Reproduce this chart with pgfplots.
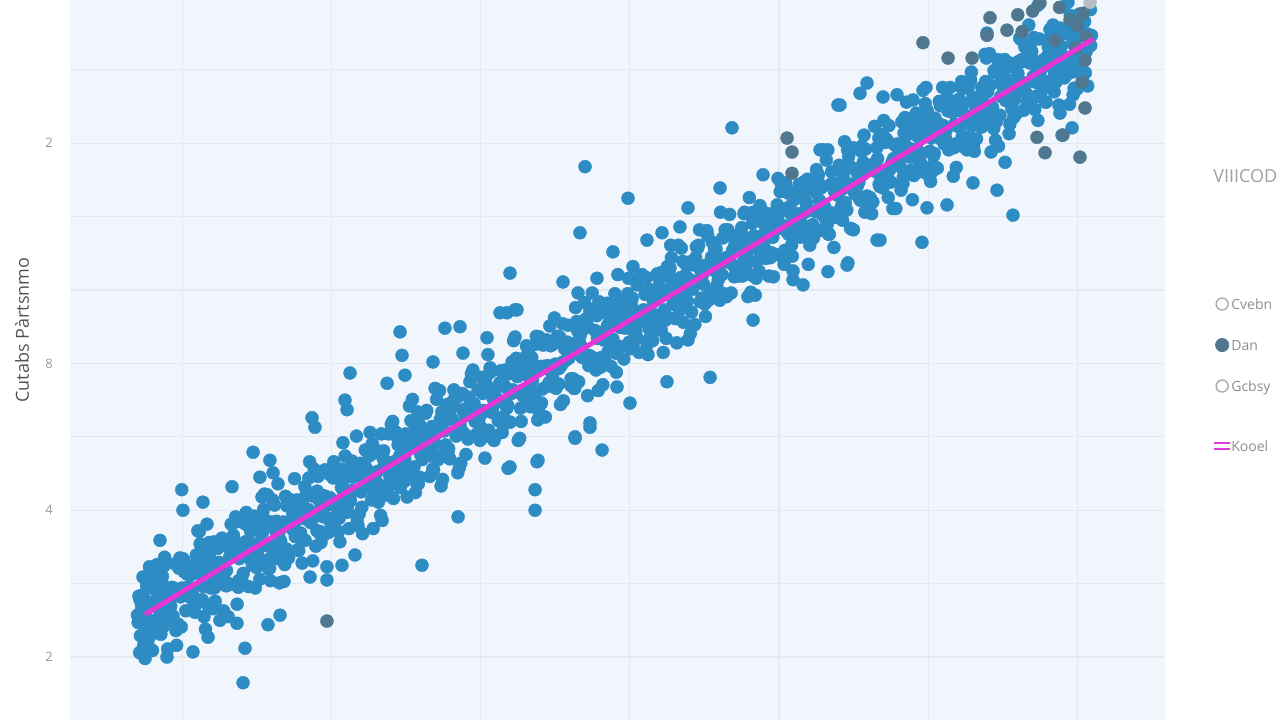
\documentclass[border=0pt]{standalone}
\usepackage{pgfplots}
\pgfplotsset{compat=1.18}
\usepackage{fontspec}
\setmainfont{Open Sans}
\definecolor{bgc}{HTML}{F0F6FC}
\definecolor{gridc}{HTML}{E2E9F1}
\definecolor{ptc}{HTML}{2D8CC4}
\definecolor{darkc}{HTML}{4F7890}
\definecolor{lightc}{HTML}{B4BEC4}
\definecolor{mag}{HTML}{E636D6}
\definecolor{tickc}{HTML}{999999}
\definecolor{labc}{HTML}{555555}
\definecolor{legc}{HTML}{8E8E8E}
\definecolor{legt}{HTML}{A0A0A0}
\definecolor{circc}{HTML}{AAAAAA}
\begin{document}
\begin{tikzpicture}
\useasboundingbox (0,0) rectangle (640pt,360pt);
\begin{axis}[
  at={(35pt,0pt)}, anchor=south west,
  scale only axis, width=547.5pt, height=360pt,
  xmin=0.248, xmax=7.587, ymin=1.142, ymax=10.951,
  clip marker paths=true,
  axis background/.style={fill=bgc},
  axis line style={draw=none},
  xtick={1,...,7}, xticklabels={},
  ytick={2,...,10}, yticklabels={2,,4,,8,,,2,},
  grid=major, major grid style={gridc, line width=0.6pt},
  tick style={draw=none},
  /pgf/number format/assume math mode=true,
  yticklabel style={font=\fontsize{6.5}{7}\selectfont, text=tickc, xshift=-5pt},
  ylabel={Cutabs Pàrtsnmo},
  ylabel style={at={(axis description cs:-0.0438,0.5417)}, anchor=center, font=\fontsize{9}{10}\selectfont, text=labc},
  legend style={at={(axis description cs:1.0438,0.784)}, anchor=north west, draw=none, fill=none, inner sep=0pt, outer sep=0pt, row sep=0pt, column sep=0pt, nodes={inner sep=0pt, text height=12.75pt, text depth=7.75pt}, font=\fontsize{7}{8}\selectfont, text=legc},
  legend cell align=left,
]
\addlegendimage{empty legend}
\addlegendentry[text height=13.5pt, text depth=7pt]{\hspace*{-9pt}{\fontsize{9}{9}\selectfont\color{legt}VIIICOD}}
\addlegendimage{empty legend}
\addlegendentry[text height=43.5pt, text depth=0pt]{\mbox{}}
\addlegendimage{legend image code/.code={\draw[circc, line width=0.7pt, fill=white] (4pt,0pt) circle (3pt);}}
\addlegendentry{Cvebn}
\addlegendimage{legend image code/.code={\fill[darkc] (4pt,0pt) circle (3.3pt);}}
\addlegendentry{Dan}
\addlegendimage{legend image code/.code={\draw[circc, line width=0.7pt, fill=white] (4pt,0pt) circle (3pt);}}
\addlegendentry{Gcbsy}
\addlegendimage{empty legend}
\addlegendentry[text height=9.5pt, text depth=0pt]{\mbox{}}
\addlegendimage{legend image code/.code={\draw[mag, line width=1.2pt] (0pt,1.4pt) -- (8pt,1.4pt); \draw[mag, line width=1.2pt] (0pt,-1.4pt) -- (8pt,-1.4pt);}}
\addlegendentry{Kooel}

\addplot[only marks, color=ptc, mark=*, mark size=3.25pt, mark options={fill=ptc, draw=ptc, line width=0.2pt}, forget plot] table[row sep=\\] {
x y\\
0.700 2.57\\ 0.720 2.29\\ 0.710 2.83\\ 0.730 2.66\\
0.741 2.15\\ 0.761 2.97\\ 0.751 1.98\\ 0.771 2.39\\
0.781 3.23\\ 0.801 2.09\\ 0.791 2.71\\ 0.811 2.96\\
0.822 2.49\\ 0.842 2.84\\ 0.832 3.26\\ 0.852 2.63\\
0.862 3.05\\ 0.882 3.36\\ 0.872 2.41\\ 0.892 2.94\\
0.903 2.11\\ 0.923 2.69\\ 0.913 2.76\\ 0.933 2.49\\
0.943 2.94\\ 0.963 2.16\\ 0.953 3.27\\ 0.973 2.88\\
0.984 3.35\\ 1.004 3.34\\ 0.994 2.41\\ 1.014 3.16\\
1.024 2.63\\ 1.044 2.96\\ 1.034 3.13\\ 1.054 2.81\\
1.065 2.92\\ 1.085 2.61\\ 1.075 2.83\\ 1.095 3.39\\
1.105 3.72\\ 1.125 3.31\\ 1.115 3.71\\ 1.135 2.78\\
1.146 2.55\\ 1.166 3.81\\ 1.156 2.38\\ 1.176 3.21\\
1.186 3.34\\ 1.206 2.66\\ 1.196 3.49\\ 1.216 2.94\\
1.227 3.05\\ 1.247 3.29\\ 1.237 3.48\\ 1.257 3.51\\
1.267 3.62\\ 1.287 3.04\\ 1.277 2.63\\ 1.297 3.18\\
1.308 2.55\\ 1.328 3.81\\ 1.318 3.36\\ 1.338 3.49\\
1.348 3.60\\ 1.368 2.72\\ 1.358 3.91\\ 1.378 3.04\\
1.389 3.01\\ 1.409 3.14\\ 1.399 3.06\\ 1.419 3.43\\
1.429 3.97\\ 1.449 3.82\\ 1.439 3.41\\ 1.459 3.71\\
1.470 3.25\\ 1.490 2.94\\ 1.480 3.92\\ 1.500 3.36\\
1.510 3.52\\ 1.530 3.69\\ 1.520 3.06\\ 1.540 3.94\\
1.551 4.22\\ 1.571 4.21\\ 1.561 3.78\\ 1.581 3.33\\
1.591 3.04\\ 1.611 3.54\\ 1.601 3.48\\ 1.621 3.76\\
1.632 3.85\\ 1.652 3.01\\ 1.642 4.36\\ 1.662 3.49\\
1.672 3.77\\ 1.692 4.19\\ 1.682 3.03\\ 1.702 4.06\\
1.713 3.35\\ 1.733 3.81\\ 1.723 4.14\\ 1.743 3.73\\
1.753 4.43\\ 1.773 3.46\\ 1.763 4.13\\ 1.783 4.04\\
1.794 3.69\\ 1.814 4.16\\ 1.804 3.28\\ 1.824 3.59\\
1.834 4.25\\ 1.854 4.66\\ 1.844 4.01\\ 1.864 3.98\\
1.875 3.31\\ 1.895 3.51\\ 1.885 4.56\\ 1.905 4.26\\
1.915 4.14\\ 1.935 4.14\\ 1.925 3.71\\ 1.945 3.91\\
1.956 4.55\\ 1.976 3.89\\ 1.966 4.06\\ 1.986 4.49\\
1.996 3.83\\ 2.016 4.66\\ 2.006 4.57\\ 2.026 3.88\\
2.037 4.12\\ 2.057 3.57\\ 2.047 3.71\\ 2.067 4.31\\
2.077 4.92\\ 2.097 3.99\\ 2.087 4.43\\ 2.107 4.04\\
2.118 3.75\\ 2.138 4.67\\ 2.128 4.13\\ 2.148 4.61\\
2.158 4.54\\ 2.178 3.79\\ 2.168 5.01\\ 2.188 4.28\\
2.199 4.25\\ 2.219 4.54\\ 2.209 3.68\\ 2.229 4.59\\
2.239 4.82\\ 2.259 5.06\\ 2.249 4.79\\ 2.269 4.14\\
2.280 3.75\\ 2.300 4.39\\ 2.290 4.78\\ 2.310 4.53\\
2.320 4.80\\ 2.340 3.86\\ 2.330 3.93\\ 2.350 4.81\\
2.361 4.21\\ 2.381 5.04\\ 2.371 4.66\\ 2.391 4.46\\
2.401 5.17\\ 2.421 4.66\\ 2.411 5.21\\ 2.431 5.04\\
2.442 4.45\\ 2.462 4.31\\ 2.452 4.36\\ 2.472 4.43\\
2.482 4.72\\ 2.502 5.01\\ 2.492 4.71\\ 2.512 4.86\\
2.523 5.42\\ 2.543 5.51\\ 2.533 5.22\\ 2.553 4.59\\
2.563 4.24\\ 2.583 4.36\\ 2.573 4.36\\ 2.593 5.16\\
2.604 5.05\\ 2.624 4.99\\ 2.614 5.08\\ 2.634 4.83\\
2.644 4.97\\ 2.664 4.74\\ 2.654 4.78\\ 2.674 5.14\\
2.685 4.55\\ 2.705 5.51\\ 2.695 5.66\\ 2.715 4.69\\
2.725 5.63\\ 2.745 4.42\\ 2.735 4.33\\ 2.755 5.08\\
2.766 4.89\\ 2.786 4.84\\ 2.776 5.44\\ 2.796 5.36\\
2.806 5.45\\ 2.826 5.52\\ 2.816 5.43\\ 2.836 5.01\\
2.847 4.51\\ 2.867 4.64\\ 2.857 4.58\\ 2.877 5.59\\
2.887 5.34\\ 2.907 5.39\\ 2.897 5.31\\ 2.917 4.98\\
2.928 5.75\\ 2.948 5.91\\ 2.938 5.86\\ 2.958 5.41\\
2.968 5.03\\ 2.988 5.24\\ 2.978 5.01\\ 2.998 5.14\\
3.009 5.32\\ 3.029 4.71\\ 3.019 5.36\\ 3.039 5.71\\
3.049 6.12\\ 3.069 5.89\\ 3.059 5.87\\ 3.079 5.38\\
3.090 4.95\\ 3.110 5.51\\ 3.100 5.01\\ 3.120 5.69\\
3.130 5.74\\ 3.150 5.16\\ 3.140 5.73\\ 3.160 5.24\\
3.171 5.45\\ 3.191 5.86\\ 3.181 5.43\\ 3.201 5.63\\
3.211 6.02\\ 3.231 6.36\\ 3.221 6.31\\ 3.241 5.91\\
3.252 4.95\\ 3.272 5.21\\ 3.262 4.98\\ 3.282 5.56\\
3.292 6.00\\ 3.312 5.84\\ 3.302 6.09\\ 3.322 6.14\\
3.333 5.41\\ 3.353 5.59\\ 3.343 6.08\\ 3.363 5.53\\
3.373 6.37\\ 3.393 6.36\\ 3.383 5.23\\ 3.403 5.96\\
3.414 5.65\\ 3.434 5.27\\ 3.424 5.96\\ 3.444 5.69\\
3.454 5.92\\ 3.474 5.69\\ 3.464 6.51\\ 3.484 6.26\\
3.495 6.62\\ 3.515 6.37\\ 3.505 5.66\\ 3.525 5.93\\
3.535 5.44\\ 3.555 5.49\\ 3.545 6.01\\ 3.565 6.24\\
3.576 6.25\\ 3.596 6.24\\ 3.586 6.52\\ 3.606 5.79\\
3.616 6.17\\ 3.636 6.76\\ 3.626 5.66\\ 3.646 6.18\\
3.657 5.75\\ 3.677 6.09\\ 3.667 6.38\\ 3.687 6.46\\
3.697 6.83\\ 3.717 5.56\\ 3.707 6.08\\ 3.727 6.11\\
3.738 6.09\\ 3.758 6.74\\ 3.748 6.96\\ 3.768 6.69\\
3.778 6.65\\ 3.798 6.36\\ 3.788 5.63\\ 3.808 6.08\\
3.819 5.71\\ 3.839 6.01\\ 3.829 6.74\\ 3.849 6.51\\
3.859 6.54\\ 3.879 6.71\\ 3.869 6.73\\ 3.889 6.24\\
3.900 6.95\\ 3.920 7.21\\ 3.910 5.88\\ 3.930 6.81\\
3.940 6.23\\ 3.960 6.06\\ 3.950 6.61\\ 3.970 6.48\\
3.981 6.52\\ 4.001 6.69\\ 3.991 7.16\\ 4.011 6.79\\
4.021 7.32\\ 4.041 6.44\\ 4.031 6.31\\ 4.051 6.34\\
4.062 6.15\\ 4.082 7.21\\ 4.072 6.66\\ 4.092 6.73\\
4.102 6.94\\ 4.122 6.12\\ 4.112 7.17\\ 4.132 7.01\\
4.143 6.65\\ 4.163 6.54\\ 4.153 6.31\\ 4.173 6.66\\
4.183 7.22\\ 4.203 7.22\\ 4.193 7.03\\ 4.213 7.24\\
4.224 6.15\\ 4.244 6.34\\ 4.234 6.73\\ 4.254 6.63\\
4.264 7.20\\ 4.284 7.09\\ 4.274 7.61\\ 4.294 7.06\\
4.305 6.61\\ 4.325 7.61\\ 4.315 6.28\\ 4.335 6.79\\
4.345 7.57\\ 4.365 6.94\\ 4.355 7.39\\ 4.375 7.36\\
4.386 6.85\\ 4.406 6.41\\ 4.396 7.38\\ 4.416 7.03\\
4.426 7.12\\ 4.446 7.59\\ 4.436 6.53\\ 4.456 7.34\\
4.467 7.82\\ 4.487 7.21\\ 4.477 7.26\\ 4.497 6.89\\
4.507 6.64\\ 4.527 6.86\\ 4.517 7.81\\ 4.537 7.28\\
4.548 7.45\\ 4.568 7.56\\ 4.558 6.96\\ 4.578 7.56\\
4.588 7.37\\ 4.608 8.06\\ 4.598 7.31\\ 4.618 7.21\\
4.629 6.95\\ 4.649 6.91\\ 4.639 7.82\\ 4.659 7.79\\
4.669 8.03\\ 4.689 7.54\\ 4.679 6.96\\ 4.699 7.18\\
4.710 7.29\\ 4.730 7.29\\ 4.720 7.68\\ 4.740 7.61\\
4.750 7.85\\ 4.770 8.06\\ 4.760 7.38\\ 4.780 7.34\\
4.791 6.91\\ 4.811 6.97\\ 4.801 8.26\\ 4.821 7.91\\
4.831 7.74\\ 4.851 7.39\\ 4.841 6.93\\ 4.861 7.58\\
4.872 8.15\\ 4.892 8.07\\ 4.882 8.04\\ 4.902 7.89\\
4.912 7.43\\ 4.932 7.19\\ 4.922 8.03\\ 4.942 7.44\\
4.953 7.72\\ 4.973 7.94\\ 4.963 7.18\\ 4.983 7.83\\
4.993 8.52\\ 5.013 8.46\\ 5.003 7.91\\ 5.023 8.11\\
5.034 7.35\\ 5.054 7.79\\ 5.044 8.46\\ 5.064 7.76\\
5.074 8.14\\ 5.094 7.26\\ 5.084 7.61\\ 5.104 8.34\\
5.115 7.85\\ 5.135 8.44\\ 5.125 7.96\\ 5.145 7.73\\
5.155 8.42\\ 5.175 8.06\\ 5.165 8.47\\ 5.185 8.16\\
5.196 7.35\\ 5.216 7.71\\ 5.206 7.61\\ 5.226 7.89\\
5.236 8.40\\ 5.256 8.41\\ 5.246 8.33\\ 5.266 8.46\\
5.277 7.81\\ 5.297 8.91\\ 5.287 8.03\\ 5.307 8.13\\
5.317 8.77\\ 5.337 7.76\\ 5.327 8.91\\ 5.347 8.44\\
5.358 8.05\\ 5.378 8.39\\ 5.368 7.58\\ 5.388 7.99\\
5.398 8.32\\ 5.418 8.14\\ 5.408 8.69\\ 5.428 8.38\\
5.439 9.02\\ 5.459 8.91\\ 5.449 8.68\\ 5.469 8.66\\
5.479 7.84\\ 5.499 7.82\\ 5.489 7.83\\ 5.509 8.31\\
5.520 8.65\\ 5.540 8.24\\ 5.530 8.56\\ 5.550 8.89\\
5.560 8.57\\ 5.580 8.92\\ 5.570 9.11\\ 5.590 8.28\\
5.601 8.15\\ 5.621 8.04\\ 5.611 8.26\\ 5.631 8.71\\
5.641 9.23\\ 5.661 8.79\\ 5.651 8.61\\ 5.671 8.44\\
5.682 8.49\\ 5.702 9.31\\ 5.692 9.12\\ 5.712 9.01\\
5.722 9.05\\ 5.742 8.64\\ 5.732 8.26\\ 5.752 8.68\\
5.763 8.11\\ 5.783 8.11\\ 5.773 8.98\\ 5.793 8.99\\
5.803 8.94\\ 5.823 9.29\\ 5.813 8.68\\ 5.833 8.54\\
5.844 9.35\\ 5.864 8.91\\ 5.854 9.56\\ 5.874 8.93\\
5.884 8.63\\ 5.904 8.56\\ 5.894 8.23\\ 5.914 9.21\\
5.925 8.92\\ 5.945 9.26\\ 5.935 9.34\\ 5.955 8.86\\
5.965 9.72\\ 5.985 9.76\\ 5.975 9.33\\ 5.995 9.44\\
6.006 8.55\\ 6.026 8.61\\ 6.016 8.48\\ 6.036 8.83\\
6.046 9.34\\ 6.066 9.24\\ 6.056 9.21\\ 6.076 9.26\\
6.087 9.05\\ 6.107 8.99\\ 6.097 9.76\\ 6.117 8.99\\
6.127 9.62\\ 6.147 9.76\\ 6.137 8.91\\ 6.157 9.56\\
6.168 8.55\\ 6.188 8.67\\ 6.178 9.26\\ 6.198 9.23\\
6.208 9.60\\ 6.228 9.09\\ 6.218 9.77\\ 6.238 9.54\\
6.249 9.01\\ 6.269 9.77\\ 6.259 8.91\\ 6.279 9.09\\
6.289 9.97\\ 6.309 8.89\\ 6.299 9.63\\ 6.319 9.48\\
6.330 9.25\\ 6.350 9.64\\ 6.340 9.33\\ 6.360 9.76\\
6.370 9.52\\ 6.390 10.16\\ 6.380 10.21\\ 6.400 9.41\\
6.411 10.22\\ 6.431 9.49\\ 6.421 8.88\\ 6.441 9.99\\
6.451 9.04\\ 6.471 8.96\\ 6.461 9.99\\ 6.481 9.38\\
6.492 9.85\\ 6.512 10.14\\ 6.502 9.98\\ 6.522 9.81\\
6.532 9.77\\ 6.552 9.76\\ 6.542 9.13\\ 6.562 9.54\\
6.573 9.35\\ 6.593 9.41\\ 6.583 9.86\\ 6.603 10.11\\
6.613 10.43\\ 6.633 10.11\\ 6.623 10.41\\ 6.643 9.78\\
6.654 9.69\\ 6.674 10.61\\ 6.664 9.56\\ 6.684 10.09\\
6.694 10.25\\ 6.714 9.46\\ 6.704 9.91\\ 6.724 9.64\\
6.735 9.31\\ 6.755 10.09\\ 6.745 10.42\\ 6.765 10.03\\
6.775 10.14\\ 6.795 9.84\\ 6.785 9.56\\ 6.805 10.31\\
6.816 10.55\\ 6.836 10.61\\ 6.826 10.28\\ 6.846 9.96\\
6.856 9.83\\ 6.876 9.52\\ 6.866 9.98\\ 6.886 10.54\\
6.897 10.12\\ 6.917 9.94\\ 6.907 10.86\\ 6.927 9.93\\
6.937 10.92\\ 6.957 10.62\\ 6.947 9.53\\ 6.967 10.36\\
6.978 9.75\\ 6.998 9.74\\ 6.988 10.64\\ 7.008 10.09\\
7.018 10.54\\ 7.038 10.49\\ 7.028 10.63\\ 7.048 10.66\\
7.059 10.25\\ 7.079 11.01\\ 7.069 9.78\\ 7.089 10.33\\
0.705 2.47\\ 0.735 2.84\\ 0.746 2.79\\ 0.776 2.51\\ 0.786 2.29\\ 0.816 3.11\\
0.827 2.79\\ 0.857 2.31\\ 0.867 3.10\\ 0.897 2.82\\ 0.908 2.59\\ 0.938 2.56\\
0.948 2.84\\ 0.978 3.21\\ 0.989 2.82\\ 1.019 2.89\\ 1.029 3.14\\ 1.059 3.12\\
1.070 2.64\\ 1.100 3.29\\ 1.110 3.14\\ 1.140 2.96\\ 1.151 3.45\\ 1.181 3.56\\
1.191 2.94\\ 1.221 2.76\\ 1.232 3.19\\ 1.262 3.27\\ 1.272 3.17\\ 1.302 3.01\\
1.313 3.49\\ 1.343 3.66\\ 1.353 2.99\\ 1.383 3.34\\ 1.394 3.49\\ 1.424 3.57\\
1.434 3.80\\ 1.464 3.74\\ 1.475 3.29\\ 1.505 3.41\\ 1.515 3.54\\ 1.545 4.01\\
1.556 3.52\\ 1.586 3.21\\ 1.596 3.84\\ 1.626 3.72\\ 1.637 3.34\\ 1.667 3.46\\
1.677 3.84\\ 1.707 4.11\\ 1.718 4.15\\ 1.748 3.79\\ 1.758 3.64\\ 1.788 4.02\\
1.799 3.89\\ 1.829 4.19\\ 1.839 3.87\\ 1.869 3.86\\ 1.880 4.19\\ 1.910 4.46\\
1.920 3.69\\ 1.950 3.66\\ 1.961 4.19\\ 1.991 4.17\\ 2.001 4.50\\ 2.031 3.91\\
2.042 3.99\\ 2.072 4.56\\ 2.082 4.24\\ 2.112 4.24\\ 2.123 4.22\\ 2.153 4.47\\
2.163 4.54\\ 2.193 4.64\\ 2.204 4.04\\ 2.234 4.31\\ 2.244 4.54\\ 2.274 4.91\\
2.285 4.85\\ 2.315 4.11\\ 2.325 4.34\\ 2.355 4.62\\ 2.366 4.59\\ 2.396 4.36\\
2.406 4.57\\ 2.436 5.01\\ 2.447 4.89\\ 2.477 4.69\\ 2.487 4.39\\ 2.517 4.92\\
2.528 4.89\\ 2.558 5.09\\ 2.568 5.20\\ 2.598 4.76\\ 2.609 4.69\\ 2.639 5.36\\
2.649 4.94\\ 2.679 4.56\\ 2.690 4.92\\ 2.720 5.07\\ 2.730 5.24\\ 2.760 4.81\\
2.771 4.74\\ 2.801 5.46\\ 2.811 5.24\\ 2.841 5.14\\ 2.852 5.55\\ 2.882 5.37\\
2.892 5.04\\ 2.922 5.54\\ 2.933 5.29\\ 2.963 5.21\\ 2.973 5.27\\ 3.003 5.81\\
3.014 5.59\\ 3.044 5.01\\ 3.054 5.09\\ 3.084 5.52\\ 3.095 5.59\\ 3.125 5.26\\
3.135 5.90\\ 3.165 5.91\\ 3.176 5.39\\ 3.206 5.59\\ 3.216 5.64\\ 3.246 5.82\\
3.257 5.62\\ 3.287 5.99\\ 3.297 5.94\\ 3.327 5.66\\ 3.338 5.44\\ 3.368 6.26\\
3.378 5.94\\ 3.408 5.46\\ 3.419 6.25\\ 3.449 5.97\\ 3.459 5.74\\ 3.489 5.71\\
3.500 5.99\\ 3.530 6.36\\ 3.540 5.97\\ 3.570 6.04\\ 3.581 6.29\\ 3.611 6.27\\
3.621 5.79\\ 3.651 6.44\\ 3.662 6.29\\ 3.692 6.11\\ 3.702 6.60\\ 3.732 6.71\\
3.743 6.09\\ 3.773 5.91\\ 3.783 6.34\\ 3.813 6.42\\ 3.824 6.32\\ 3.854 6.16\\
3.864 6.64\\ 3.894 6.81\\ 3.905 6.14\\ 3.935 6.49\\ 3.945 6.64\\ 3.975 6.72\\
3.986 6.95\\ 4.016 6.89\\ 4.026 6.44\\ 4.056 6.56\\ 4.067 6.69\\ 4.097 7.16\\
4.107 6.67\\ 4.137 6.36\\ 4.148 6.99\\ 4.178 6.87\\ 4.188 6.49\\ 4.218 6.61\\
4.229 6.99\\ 4.259 7.26\\ 4.269 7.30\\ 4.299 6.94\\ 4.310 6.79\\ 4.340 7.17\\
4.350 7.04\\ 4.380 7.34\\ 4.391 7.02\\ 4.421 7.01\\ 4.431 7.34\\ 4.461 7.61\\
4.472 6.84\\ 4.502 6.81\\ 4.512 7.34\\ 4.542 7.32\\ 4.553 7.65\\ 4.583 7.06\\
4.593 7.14\\ 4.623 7.71\\ 4.634 7.39\\ 4.664 7.39\\ 4.674 7.37\\ 4.704 7.62\\
4.715 7.69\\ 4.745 7.79\\ 4.755 7.19\\ 4.785 7.46\\ 4.796 7.69\\ 4.826 8.06\\
4.836 8.00\\ 4.866 7.26\\ 4.877 7.49\\ 4.907 7.77\\ 4.917 7.74\\ 4.947 7.51\\
4.958 7.72\\ 4.988 8.16\\ 4.998 8.04\\ 5.028 7.84\\ 5.039 7.54\\ 5.069 8.07\\
5.079 8.04\\ 5.109 8.24\\ 5.120 8.35\\ 5.150 7.91\\ 5.160 7.84\\ 5.190 8.51\\
5.201 8.09\\ 5.231 7.71\\ 5.241 8.07\\ 5.271 8.22\\ 5.282 8.39\\ 5.312 7.96\\
5.322 7.89\\ 5.352 8.61\\ 5.363 8.39\\ 5.393 8.29\\ 5.403 8.70\\ 5.433 8.52\\
5.444 8.19\\ 5.474 8.69\\ 5.484 8.44\\ 5.514 8.36\\ 5.525 8.42\\ 5.555 8.96\\
5.565 8.74\\ 5.595 8.16\\ 5.606 8.24\\ 5.636 8.67\\ 5.646 8.74\\ 5.676 8.41\\
5.687 9.05\\ 5.717 9.06\\ 5.727 8.54\\ 5.757 8.74\\ 5.768 8.79\\ 5.798 8.97\\
5.808 8.77\\ 5.838 9.14\\ 5.849 9.09\\ 5.879 8.81\\ 5.889 8.59\\ 5.919 9.41\\
5.930 9.09\\ 5.960 8.61\\ 5.970 9.40\\ 6.000 9.12\\ 6.011 8.89\\ 6.041 8.86\\
6.051 9.14\\ 6.081 9.51\\ 6.092 9.12\\ 6.122 9.19\\ 6.132 9.44\\ 6.162 9.42\\
6.173 8.94\\ 6.203 9.59\\ 6.213 9.44\\ 6.243 9.26\\ 6.254 9.75\\ 6.284 9.86\\
6.294 9.24\\ 6.324 9.06\\ 6.335 9.49\\ 6.365 9.57\\ 6.375 9.47\\ 6.405 9.31\\
6.416 9.79\\ 6.446 9.96\\ 6.456 9.29\\ 6.486 9.64\\ 6.497 9.79\\ 6.527 9.87\\
6.537 10.10\\ 6.567 10.04\\ 6.578 9.59\\ 6.608 9.71\\ 6.618 9.84\\ 6.648 10.31\\
6.659 9.82\\ 6.689 9.51\\ 6.699 10.14\\ 6.729 10.02\\ 6.740 9.64\\ 6.770 9.76\\
6.780 10.14\\ 6.810 10.41\\ 6.821 10.45\\ 6.851 10.09\\ 6.861 9.94\\ 6.891 10.32\\
6.902 10.19\\ 6.932 10.49\\ 6.942 10.17\\ 6.972 10.16\\ 6.983 10.49\\ 7.013 10.76\\
7.023 9.99\\ 7.053 9.96\\ 7.064 10.49\\ 7.094 10.47\\
0.728 2.70\\ 0.715 2.06\\ 0.769 2.20\\ 0.756 2.64\\ 0.809 3.07\\ 0.796 2.94\\
0.850 2.58\\ 0.837 2.39\\ 0.890 2.47\\ 0.877 3.24\\ 0.931 2.95\\ 0.918 2.77\\
0.971 2.45\\ 0.958 2.36\\ 1.012 3.32\\ 0.999 2.94\\ 1.052 2.83\\ 1.039 3.24\\
1.093 2.72\\ 1.080 2.69\\ 1.133 3.20\\ 1.120 3.54\\ 1.174 2.70\\ 1.161 3.07\\
1.214 3.57\\ 1.201 2.66\\ 1.255 3.08\\ 1.242 3.24\\ 1.295 2.97\\ 1.282 3.54\\
1.336 3.45\\ 1.323 2.99\\ 1.376 2.95\\ 1.363 3.84\\ 1.417 3.82\\ 1.404 3.37\\
1.457 3.33\\ 1.444 2.96\\ 1.498 3.22\\ 1.485 3.54\\ 1.538 3.70\\ 1.525 3.84\\
1.579 3.20\\ 1.566 3.29\\ 1.619 4.07\\ 1.606 4.14\\ 1.660 3.58\\ 1.647 3.67\\
1.700 3.47\\ 1.687 3.26\\ 1.741 3.95\\ 1.728 3.84\\ 1.781 3.45\\ 1.768 4.14\\
1.822 4.32\\ 1.809 3.59\\ 1.862 3.83\\ 1.849 4.44\\ 1.903 3.72\\ 1.890 3.97\\
1.943 4.20\\ 1.930 3.56\\ 1.984 3.70\\ 1.971 4.14\\ 2.024 4.57\\ 2.011 4.44\\
2.065 4.08\\ 2.052 3.89\\ 2.105 3.97\\ 2.092 4.74\\ 2.146 4.45\\ 2.133 4.27\\
2.186 3.95\\ 2.173 3.86\\ 2.227 4.82\\ 2.214 4.44\\ 2.267 4.33\\ 2.254 4.74\\
2.308 4.22\\ 2.295 4.19\\ 2.348 4.70\\ 2.335 5.04\\ 2.389 4.20\\ 2.376 4.57\\
2.429 5.07\\ 2.416 4.16\\ 2.470 4.58\\ 2.457 4.74\\ 2.510 4.47\\ 2.497 5.04\\
2.551 4.95\\ 2.538 4.49\\ 2.591 4.45\\ 2.578 5.34\\ 2.632 5.32\\ 2.619 4.87\\
2.672 4.83\\ 2.659 4.46\\ 2.713 4.72\\ 2.700 5.04\\ 2.753 5.20\\ 2.740 5.34\\
2.794 4.70\\ 2.781 4.79\\ 2.834 5.57\\ 2.821 5.64\\ 2.875 5.08\\ 2.862 5.17\\
2.915 4.97\\ 2.902 4.76\\ 2.956 5.45\\ 2.943 5.34\\ 2.996 4.95\\ 2.983 5.64\\
3.037 5.82\\ 3.024 5.09\\ 3.077 5.33\\ 3.064 5.94\\ 3.118 5.22\\ 3.105 5.47\\
3.158 5.70\\ 3.145 5.06\\ 3.199 5.20\\ 3.186 5.64\\ 3.239 6.07\\ 3.226 5.94\\
3.280 5.58\\ 3.267 5.39\\ 3.320 5.47\\ 3.307 6.24\\ 3.361 5.95\\ 3.348 5.77\\
3.401 5.45\\ 3.388 5.36\\ 3.442 6.32\\ 3.429 5.94\\ 3.482 5.83\\ 3.469 6.24\\
3.523 5.72\\ 3.510 5.69\\ 3.563 6.20\\ 3.550 6.54\\ 3.604 5.70\\ 3.591 6.07\\
3.644 6.57\\ 3.631 5.66\\ 3.685 6.08\\ 3.672 6.24\\ 3.725 5.97\\ 3.712 6.54\\
3.766 6.45\\ 3.753 5.99\\ 3.806 5.95\\ 3.793 6.84\\ 3.847 6.82\\ 3.834 6.37\\
3.887 6.33\\ 3.874 5.96\\ 3.928 6.22\\ 3.915 6.54\\ 3.968 6.70\\ 3.955 6.84\\
4.009 6.20\\ 3.996 6.29\\ 4.049 7.07\\ 4.036 7.14\\ 4.090 6.58\\ 4.077 6.67\\
4.130 6.47\\ 4.117 6.26\\ 4.171 6.95\\ 4.158 6.84\\ 4.211 6.45\\ 4.198 7.14\\
4.252 7.32\\ 4.239 6.59\\ 4.292 6.83\\ 4.279 7.44\\ 4.333 6.72\\ 4.320 6.97\\
4.373 7.20\\ 4.360 6.56\\ 4.414 6.70\\ 4.401 7.14\\ 4.454 7.57\\ 4.441 7.44\\
4.495 7.08\\ 4.482 6.89\\ 4.535 6.97\\ 4.522 7.74\\ 4.576 7.45\\ 4.563 7.27\\
4.616 6.95\\ 4.603 6.86\\ 4.657 7.82\\ 4.644 7.44\\ 4.697 7.33\\ 4.684 7.74\\
4.738 7.22\\ 4.725 7.19\\ 4.778 7.70\\ 4.765 8.04\\ 4.819 7.20\\ 4.806 7.57\\
4.859 8.07\\ 4.846 7.16\\ 4.900 7.58\\ 4.887 7.74\\ 4.940 7.47\\ 4.927 8.04\\
4.981 7.95\\ 4.968 7.49\\ 5.021 7.45\\ 5.008 8.34\\ 5.062 8.32\\ 5.049 7.87\\
5.102 7.83\\ 5.089 7.46\\ 5.143 7.72\\ 5.130 8.04\\ 5.183 8.20\\ 5.170 8.34\\
5.224 7.70\\ 5.211 7.79\\ 5.264 8.57\\ 5.251 8.64\\ 5.305 8.08\\ 5.292 8.17\\
5.345 7.97\\ 5.332 7.76\\ 5.386 8.45\\ 5.373 8.34\\ 5.426 7.95\\ 5.413 8.64\\
5.467 8.82\\ 5.454 8.09\\ 5.507 8.33\\ 5.494 8.94\\ 5.548 8.22\\ 5.535 8.47\\
5.588 8.70\\ 5.575 8.06\\ 5.629 8.20\\ 5.616 8.64\\ 5.669 9.07\\ 5.656 8.94\\
5.710 8.58\\ 5.697 8.39\\ 5.750 8.47\\ 5.737 9.24\\ 5.791 8.95\\ 5.778 8.77\\
5.831 8.45\\ 5.818 8.36\\ 5.872 9.32\\ 5.859 8.94\\ 5.912 8.83\\ 5.899 9.24\\
5.953 8.72\\ 5.940 8.69\\ 5.993 9.20\\ 5.980 9.54\\ 6.034 8.70\\ 6.021 9.07\\
6.074 9.57\\ 6.061 8.66\\ 6.115 9.08\\ 6.102 9.24\\ 6.155 8.97\\ 6.142 9.54\\
6.196 9.45\\ 6.183 8.99\\ 6.236 8.95\\ 6.223 9.84\\ 6.277 9.82\\ 6.264 9.37\\
6.317 9.33\\ 6.304 8.96\\ 6.358 9.22\\ 6.345 9.54\\ 6.398 9.70\\ 6.385 9.84\\
6.439 9.20\\ 6.426 9.29\\ 6.479 10.07\\ 6.466 10.14\\ 6.520 9.58\\ 6.507 9.67\\
6.560 9.47\\ 6.547 9.26\\ 6.601 9.95\\ 6.588 9.84\\ 6.641 9.45\\ 6.628 10.14\\
6.682 10.32\\ 6.669 9.59\\ 6.722 9.83\\ 6.709 10.44\\ 6.763 9.72\\ 6.750 9.97\\
6.803 10.20\\ 6.790 9.56\\ 6.844 9.70\\ 6.831 10.14\\ 6.884 10.57\\ 6.871 10.44\\
6.925 10.08\\ 6.912 9.89\\ 6.965 9.97\\ 6.952 10.74\\ 7.006 10.45\\ 6.993 10.27\\
7.046 9.95\\ 7.033 9.86\\ 7.087 10.82\\ 7.074 10.44\\
0.851 3.59\\ 0.997 4.28\\ 1.005 4.00\\ 1.139 4.11\\ 1.334 4.32\\ 1.475 4.79\\
1.588 4.68\\ 1.609 4.51\\ 1.521 4.45\\ 1.535 4.18\\ 1.870 5.26\\ 1.890 5.13\\
2.125 5.87\\ 2.091 5.50\\ 2.105 5.37\\ 2.373 5.73\\ 2.460 6.43\\ 2.473 6.11\\
2.493 5.84\\ 2.761 6.48\\ 2.862 6.50\\ 2.681 6.02\\ 2.882 6.14\\ 3.043 6.35\\
3.177 6.69\\ 3.231 6.73\\ 3.365 4.28\\ 3.365 4.00\\ 2.849 3.91\\ 2.607 3.25\\
3.633 5.00\\ 3.733 5.13\\ 3.378 4.66\\ 3.184 4.57\\ 2.507 4.18\\ 2.158 3.39\\
2.071 3.25\\ 1.970 3.23\\ 1.970 3.05\\ 1.857 3.09\\ 1.656 2.57\\ 1.575 2.44\\
1.421 2.12\\ 1.408 1.65\\ 1.072 2.07\\ 0.898 2.00\\ 1.173 2.27\\ 1.367 2.46\\
1.253 2.50\\ 0.751 2.33\\ 0.717 2.78\\ 0.737 3.09\\
3.700 8.68\\ 3.988 8.25\\ 3.666 7.78\\ 3.197 7.23\\ 4.685 9.21\\ 3.887 7.52\\
3.552 7.11\\ 3.780 7.16\\ 3.653 6.96\\ 4.115 7.68\\ 4.216 7.78\\ 4.336 7.86\\
4.390 8.12\\ 4.605 8.39\\ 4.893 8.57\\ 5.275 8.91\\ 5.395 9.52\\ 3.130 6.69\\
3.244 6.73\\ 4.538 5.81\\ 4.249 5.75\\ 4.826 6.59\\ 5.328 7.25\\ 5.462 7.37\\
5.094 7.14\\ 5.161 7.07\\ 4.390 6.32\\ 4.001 5.46\\ 3.914 5.68\\ 3.814 4.82\\
3.733 5.19\\ 3.633 4.98\\ 3.385 4.68\\ 3.197 4.59\\ 5.657 7.68\\
5.409 9.52\\ 5.590 9.82\\ 5.543 9.68\\ 5.697 9.63\\ 5.791 9.66\\ 5.898 9.59\\
6.394 10.50\\ 6.736 10.88\\ 5.677 7.68\\ 5.958 7.65\\ 5.456 7.34\\ 5.992 8.12\\
6.126 8.16\\ 6.461 8.36\\ 6.568 8.02\\ 6.515 8.74\\ 6.300 8.46\\ 6.897 9.11\\
6.964 9.21\\ 6.971 9.66\\ 6.883 9.41\\
};
\addplot[only marks, color=darkc, mark=*, mark size=3.25pt, mark options={fill=darkc, draw=darkc, line width=0.2pt}, forget plot] table[row sep=\\] {
x y\\
5.054 9.07\\ 5.087 8.88\\ 5.087 8.59\\ 5.965 10.37\\ 6.133 10.16\\ 6.294 10.16\\
6.414 10.71\\ 6.528 10.54\\ 6.629 10.52\\ 6.394 10.47\\ 6.729 9.08\\ 6.783 8.87\\
7.017 8.81\\ 7.051 9.48\\ 7.031 9.83\\ 7.051 10.13\\ 6.950 10.68\\ 7.038 10.77\\
6.749 10.91\\ 6.903 9.11\\ 1.970 2.49\\ 6.700 10.80\\ 6.850 10.40\\ 6.990 10.30\\
6.600 10.75\\ 7.000 10.60\\ 6.880 10.85\\ 7.060 10.45\\
};
\addplot[only marks, color=lightc, mark=*, mark size=3.25pt, mark options={fill=lightc, draw=lightc, line width=0.2pt}, forget plot] table[row sep=\\] {
x y\\
7.085 10.92\\
};
\addplot[mag, line width=2.5pt, line cap=round, forget plot] coordinates {(0.762,2.595) (7.096,10.406)};
\end{axis}
\end{tikzpicture}
\end{document}
